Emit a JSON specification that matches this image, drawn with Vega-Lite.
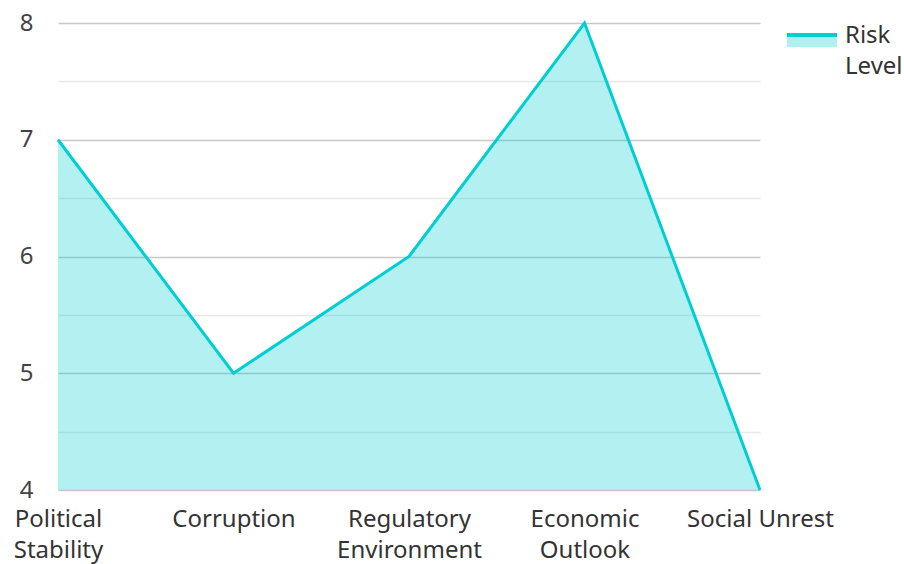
{
  "$schema": "https://vega.github.io/schema/vega-lite/v6.json",
  "width": 702,
  "height": 467,
  "autosize": {"type": "none"},
  "padding": {"left": 58, "top": 23, "right": 144, "bottom": 74},
  "background": "white",
  "config": {
    "view": {"stroke": null},
    "font": "Noto Sans",
    "axis": {"labelFont": "Noto Sans", "labelFontSize": 24, "labelColor": "#333", "domain": false, "ticks": false}
  },
  "data": {
    "values": [
      {"factor": "Political Stability", "risk": 7, "series": "Risk Level"},
      {"factor": "Corruption", "risk": 5, "series": "Risk Level"},
      {"factor": "Regulatory Environment", "risk": 6, "series": "Risk Level"},
      {"factor": "Economic Outlook", "risk": 8, "series": "Risk Level"},
      {"factor": "Social Unrest", "risk": 4, "series": "Risk Level"}
    ]
  },
  "encoding": {
    "x": {
      "field": "factor",
      "type": "nominal",
      "sort": null,
      "scale": {"type": "point", "padding": 0},
      "axis": {
        "title": null,
        "labelAngle": 0,
        "labelPadding": 17,
        "labelLineHeight": 31,
        "labelBaseline": "top",
        "labelExpr": "datum.label == 'Social Unrest' ? datum.label : split(datum.label, ' ')",
        "grid": false
      }
    },
    "y": {
      "field": "risk",
      "type": "quantitative",
      "scale": {"domain": [4, 8], "nice": false, "zero": false},
      "axis": {
        "title": null,
        "values": [4, 4.5, 5, 5.5, 6, 6.5, 7, 7.5, 8],
        "labelExpr": "datum.value % 1 === 0 ? format(datum.value, 'd') : ''",
        "labelPadding": 25,
        "labelColor": "#444",
        "grid": true,
        "gridColor": {"condition": {"test": "datum.value % 1 === 0", "value": "#c8c8c8"}, "value": "#e8e8e8"},
        "gridWidth": 1.5
      }
    }
  },
  "layer": [
    {
      "mark": {"type": "area", "color": "#00CED1", "fillOpacity": 0.3, "clip": true}
    },
    {
      "mark": {"type": "line", "strokeWidth": 3},
      "encoding": {
        "color": {
          "field": "series",
          "type": "nominal",
          "scale": {"range": ["#00CED1"]},
          "legend": {
            "title": null,
            "orient": "none",
            "legendX": 727,
            "legendY": -9,
            "padding": 0,
            "symbolType": "M-1,-0.24H1V0.24H-1Z",
            "symbolSize": 2500,
            "labelFontSize": 24,
            "labelFont": "Noto Sans",
            "labelColor": "#333",
            "labelOffset": 6,
            "labelLimit": 200,
            "labelExpr": "split(datum.label, ' ')",
            "encode": {
              "labels": {"update": {"lineHeight": {"value": 31}, "dy": {"value": -5}}},
              "symbols": {
                "update": {
                  "fill": {"value": "#b2efef"},
                  "fillOpacity": {"value": 1},
                  "opacity": {"value": 1},
                  "stroke": {"value": "#00CED1"},
                  "strokeWidth": {"value": 4},
                  "strokeDash": {"value": [50, 300]}
                }
              }
            }
          }
        }
      }
    }
  ]
}
